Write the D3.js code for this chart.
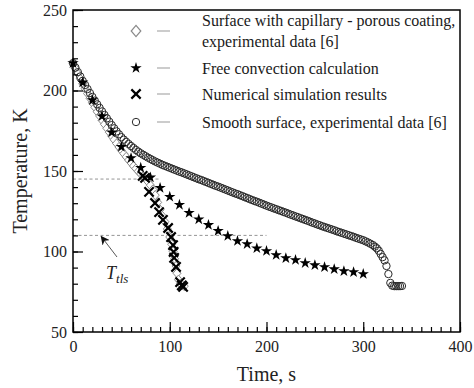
<!DOCTYPE html>
<html>
<head>
<meta charset="utf-8">
<script src="https://cdn.jsdelivr.net/npm/d3@7"></script>
<style>
  body { margin: 0; background: #fff; }
  svg { display: block; font-family: "Liberation Serif", "Times New Roman", serif; }
</style>
</head>
<body>
<div id="chart"></div>
<script>
// Cooling curves: temperature vs time

// Smooth surface, experimental data [6]  (open circles)
const smoothData = [
  [0, 217], [2.5, 214.2], [5, 211.4], [7.5, 208.7], [10, 206], [12.5, 203.4], [15, 200.9],
  [17.5, 198.4], [20, 196], [22.5, 193.7], [25, 191.4], [27.5, 189.2], [30, 187], [32.5, 184.8],
  [35, 182.7], [37.5, 180.6], [40, 178.5], [42.5, 176.5], [45, 174.6], [47.5, 172.8], [50, 171],
  [52.5, 169.5], [55, 168.1], [57.5, 166.8], [60, 165.5], [62.5, 164.3], [65, 163.1], [67.5, 162],
  [70, 161], [72.5, 160.1], [75, 159.2], [77.5, 158.3], [80, 157.5], [82.5, 156.7], [85, 155.9],
  [87.5, 155.2], [90, 154.5], [92.5, 153.8], [95, 153.2], [97.5, 152.6], [100, 152],
  [102.5, 151.4], [105, 150.8], [107.5, 150.2], [110, 149.6], [112.5, 149.1], [115, 148.5],
  [117.5, 147.9], [120, 147.3], [122.5, 146.7], [125, 146.1], [127.5, 145.5], [130, 144.9],
  [132.5, 144.4], [135, 143.8], [137.5, 143.2], [140, 142.6], [142.5, 142], [145, 141.4],
  [147.5, 140.8], [150, 140.3], [152.5, 139.7], [155, 139.1], [157.5, 138.5], [160, 137.9],
  [162.5, 137.3], [165, 136.7], [167.5, 136.1], [170, 135.6], [172.5, 135], [175, 134.4],
  [177.5, 133.8], [180, 133.2], [182.5, 132.6], [185, 132], [187.5, 131.4], [190, 130.9],
  [192.5, 130.3], [195, 129.7], [197.5, 129.1], [200, 128.5], [202.5, 127.9], [205, 127.4],
  [207.5, 126.8], [210, 126.3], [212.5, 125.7], [215, 125.2], [217.5, 124.6], [220, 124.1],
  [222.5, 123.5], [225, 122.9], [227.5, 122.4], [230, 121.8], [232.5, 121.3], [235, 120.7],
  [237.5, 120.2], [240, 119.6], [242.5, 119.1], [245, 118.5], [247.5, 117.9], [250, 117.4],
  [252.5, 116.8], [255, 116.3], [257.5, 115.7], [260, 115.2], [262.5, 114.7], [265, 114.2],
  [267.5, 113.7], [270, 113.2], [272.5, 112.6], [275, 112.1], [277.5, 111.6], [280, 111.1],
  [282.5, 110.6], [285, 110.1], [287.5, 109.6], [290, 109.1], [292.5, 108.5], [295, 108],
  [297.5, 107.5], [300, 107], [302.5, 106.3], [305, 105.6], [307.5, 104.8], [310, 104],
  [312, 103], [314, 102], [316, 100.5], [318, 98.5], [320, 96.5], [322, 94.5], [324, 91],
  [326, 86], [328, 80.5], [330, 78.8], [332, 78.5], [334, 78.5], [336, 78.5], [338, 78.5], [340, 78.6]
];

// Surface with capillary-porous coating, experimental data [6]  (open diamonds)
const coatedData = [
  [0, 217], [2.5, 213.7], [5, 210.5], [7.5, 207.3], [10, 204.2], [12.5, 201.1], [15, 198.1],
  [17.5, 195.2], [20, 192.4], [22.5, 189.6], [25, 186.8], [27.5, 184.2], [30, 181.5],
  [32.5, 179], [35, 176.5], [37.5, 174.1], [40, 171.7], [42.5, 169.4], [45, 167.1],
  [47.5, 164.9], [50, 162.8], [52.5, 160.8], [55, 158.8], [57.5, 156.8], [60, 155],
  [62.5, 153.1], [65, 151.5], [67.5, 149.8], [70, 148.2], [72.5, 146.6], [75, 145],
  [77.5, 143.3], [80, 141.2], [82.5, 138.5], [85, 135], [87.5, 130.5], [90, 126],
  [92.5, 122], [95, 118.5], [97.5, 114], [100, 109], [102, 104.5], [103.5, 100],
  [105, 95.5], [106.5, 91], [107.5, 86.5], [109, 82.5], [111, 80], [113, 79], [115, 78.5]
];

// Free convection calculation  (filled stars)
const convTimes = [0, 10, 20, 30, 40, 50, 60, 70, 80, 90, 100, 110, 120, 130, 140, 150,
  160, 170, 180, 190, 200, 210, 220, 230, 240, 250, 260, 270, 280, 290, 300];
const convTemps = [217, 205, 194, 184, 174, 165, 158, 152, 146, 139.5, 134, 129, 124, 120,
  116.5, 112.8, 109.6, 106.5, 104.6, 102, 100.3, 97.8, 95.9, 94.7, 92.8, 91.5, 90.3, 89,
  87.8, 87.2, 86];

// Numerical simulation results  (crosses)
const simTimes = [72, 74.5, 78.6, 84.8, 89, 93, 98.3, 101.4, 103.4, 104, 104.5, 106.5, 110.7, 112.5, 113.8];
const simTemps = [147, 145.7, 137, 130.1, 124.5, 119.6, 114.6, 109, 104, 99.7, 96, 90.4, 81, 79, 78];

// Threshold guide lines (T_tls levels)
const guideLines = [
  { t0: 0, t1: 90, T: 145 },
  { t0: 0, t1: 200, T: 110 }
];

const legendItems = [
  { key: 'diamond', lines: ['Surface with capillary - porous coating,', 'experimental data [6]'] },
  { key: 'star', lines: ['Free convection calculation'] },
  { key: 'cross', lines: ['Numerical simulation results'] },
  { key: 'circle', lines: ['Smooth surface, experimental data [6]'] }
];

const xTicks = [0, 100, 200, 300, 400];
const yTicks = [50, 100, 150, 200, 250];

const width = 474;
const height = 388;
const margin = { top: 10, right: 14, bottom: 56, left: 73 };

const svg = d3.select('#chart')
  .append('svg')
  .attr('width', width)
  .attr('height', height);

const x = d3.scaleLinear().domain([0, 400]).range([margin.left, width - margin.right]);
const y = d3.scaleLinear().domain([50, 250]).range([height - margin.bottom, margin.top]);

// Marker shapes
const starPath = d3.symbol().type(d3.symbolStar).size(40)();
const crossPath = d3.symbol().type(d3.symbolTimes).size(58)();
const diamondPath = 'M0,-4.6L4,0L0,4.6L-4,0Z';

function drawMarker(g, key) {
  if (key === 'circle') {
    g.append('circle').attr('r', 3.7)
      .attr('fill', 'none').attr('stroke', '#2a2a2a').attr('stroke-width', 1);
  } else if (key === 'diamond') {
    g.append('path').attr('d', diamondPath)
      .attr('fill', '#fff').attr('stroke', '#8a8a8a').attr('stroke-width', 1);
  } else if (key === 'star') {
    g.append('path').attr('d', starPath).attr('fill', '#000');
  } else if (key === 'cross') {
    g.append('path').attr('d', crossPath)
      .attr('fill', 'none').attr('stroke', '#000').attr('stroke-width', 2.2);
  }
}

// Guide lines
svg.append('g').selectAll('line')
  .data(guideLines)
  .enter()
  .append('line')
  .attr('x1', d => x(d.t0))
  .attr('x2', d => x(d.t1))
  .attr('y1', d => y(d.T))
  .attr('y2', d => y(d.T))
  .attr('stroke', '#888')
  .attr('stroke-width', 0.9)
  .attr('stroke-dasharray', '3,2.5');

// Data series
const plot = svg.append('g');

plot.append('g').selectAll('g')
  .data(coatedData)
  .enter()
  .append('g')
  .attr('transform', d => `translate(${x(d[0])},${y(d[1])})`)
  .each(function() { drawMarker(d3.select(this), 'diamond'); });

plot.append('g').selectAll('g')
  .data(smoothData)
  .enter()
  .append('g')
  .attr('transform', d => `translate(${x(d[0])},${y(d[1])})`)
  .each(function() { drawMarker(d3.select(this), 'circle'); });

plot.append('g').selectAll('g')
  .data(convTimes.map((t, i) => [t, convTemps[i]]))
  .enter()
  .append('g')
  .attr('transform', d => `translate(${x(d[0])},${y(d[1])})`)
  .each(function() { drawMarker(d3.select(this), 'star'); });

plot.append('g').selectAll('g')
  .data(simTimes.map((t, i) => [t, simTemps[i]]))
  .enter()
  .append('g')
  .attr('transform', d => `translate(${x(d[0])},${y(d[1])})`)
  .each(function() { drawMarker(d3.select(this), 'cross'); });

// Axes (ticks pointing inward)
const xAxis = d3.axisBottom(x).tickValues(xTicks).tickSize(-10).tickPadding(6);
const xMinor = d3.axisBottom(x).tickValues(d3.range(0, 401, 10)).tickSize(-5).tickFormat('');
const yAxis = d3.axisLeft(y).tickValues(yTicks).tickSize(-10).tickPadding(6);
const yMinor = d3.axisLeft(y).tickValues(d3.range(50, 251, 10)).tickSize(-5).tickFormat('');

function styleAxis(g) {
  g.select('.domain').remove();
  g.selectAll('line').attr('stroke', '#000').attr('stroke-width', 1.2);
  g.selectAll('text').attr('fill', '#222').style('font-size', '16px')
    .style('font-family', '"Liberation Serif", "Times New Roman", serif');
}

svg.append('g').attr('transform', `translate(0,${y(50)})`).call(xMinor).call(styleAxis);
svg.append('g').attr('transform', `translate(0,${y(50)})`).call(xAxis).call(styleAxis)
  .selectAll('text').attr('dy', '0.9em');
svg.append('g').attr('transform', `translate(${x(0)},0)`).call(yMinor).call(styleAxis);
svg.append('g').attr('transform', `translate(${x(0)},0)`).call(yAxis).call(styleAxis);

// Frame
svg.append('rect')
  .attr('x', x(0)).attr('y', y(250))
  .attr('width', x(400) - x(0)).attr('height', y(50) - y(250))
  .attr('fill', 'none').attr('stroke', '#000').attr('stroke-width', 1.5);

// Axis titles
svg.append('text')
  .attr('x', (x(0) + x(400)) / 2).attr('y', 381)
  .attr('text-anchor', 'middle')
  .style('font-size', '20px').attr('fill', '#222')
  .text('Time, s');

svg.append('text')
  .attr('transform', `translate(27,${(y(50) + y(250)) / 2}) rotate(-90)`)
  .attr('text-anchor', 'middle')
  .style('font-size', '20px').attr('fill', '#222')
  .text('Temperature, K');

// Legend
const legendRows = [31, 68, 94, 122];
const legend = svg.append('g');
legendItems.forEach((item, i) => {
  const cy = legendRows[i];
  const mg = legend.append('g').attr('transform', `translate(136,${cy})`);
  drawMarker(mg, item.key);
  if (item.key === 'diamond') mg.select('path').attr('transform', 'scale(1.2)');
  legend.append('line')
    .attr('x1', 157).attr('x2', 170).attr('y1', cy).attr('y2', cy)
    .attr('stroke', '#999').attr('stroke-width', 1);
  const lineGap = 21;
  const startY = cy - (item.lines.length - 1) * lineGap / 2;
  item.lines.forEach((txt, j) => {
    legend.append('text')
      .attr('x', 202).attr('y', startY + j * lineGap)
      .attr('dy', '0.35em')
      .style('font-size', '16px').attr('fill', '#1a1a1a')
      .text(txt);
  });
});

// Arrow pointing to the lower guide line
svg.append('defs').append('marker')
  .attr('id', 'arrowhead')
  .attr('viewBox', '0 0 10 10')
  .attr('refX', 9).attr('refY', 5)
  .attr('markerWidth', 9).attr('markerHeight', 9)
  .attr('markerUnits', 'userSpaceOnUse')
  .attr('orient', 'auto')
  .append('path').attr('d', 'M0,0L10,5L0,10L3,5Z').attr('fill', '#111');

svg.append('line')
  .attr('x1', 117).attr('y1', 257)
  .attr('x2', x(30) - 0.8).attr('y2', y(110) + 1)
  .attr('stroke', '#444').attr('stroke-width', 0.9)
  .attr('marker-end', 'url(#arrowhead)');

const tLabel = svg.append('text')
  .attr('x', 106).attr('y', 279)
  .style('font-size', '18px').style('font-style', 'italic').attr('fill', '#222');
tLabel.append('tspan').text('T');
tLabel.append('tspan').attr('dy', 4).style('font-size', '13px').text('tls');
</script>
</body>
</html>
